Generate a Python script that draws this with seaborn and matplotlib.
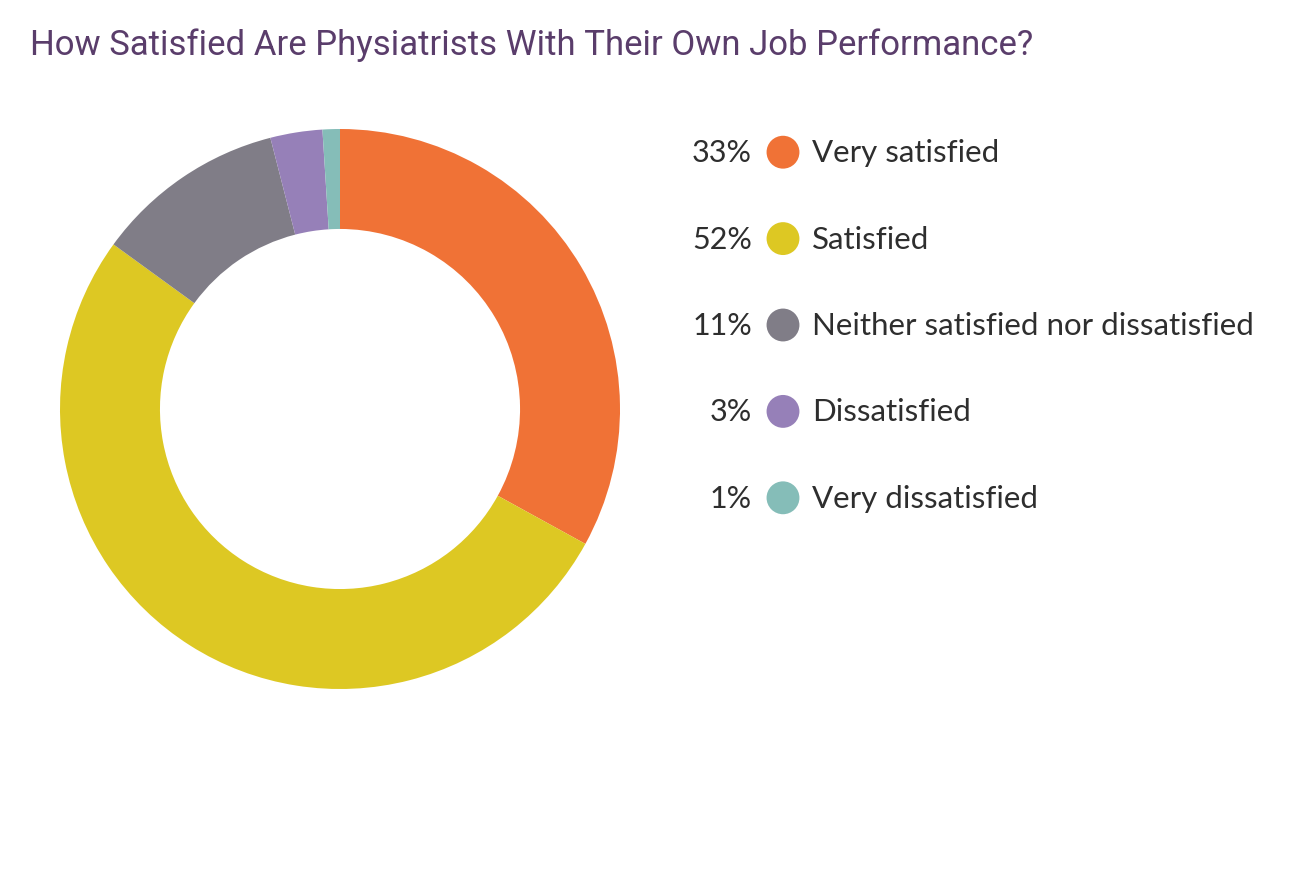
import pandas as pd
import seaborn as sns
import matplotlib.pyplot as plt

# data
categories = ["Very satisfied", "Satisfied", "Neither satisfied nor dissatisfied",
              "Dissatisfied", "Very dissatisfied"]
shares = [33, 52, 11, 3, 1]
palette = ["#F07236", "#DDC823", "#807D87", "#9680B8", "#85BDB8"]
title = "How Satisfied Are Physiatrists With Their Own Job Performance?"

df = pd.DataFrame({"cat": categories, "share": shares, "row": range(len(categories))})

sns.set_theme(style="white")
plt.rcParams["font.family"] = ["Lato", "DejaVu Sans"]

W, H = 1290, 878
fig = plt.figure(figsize=(W / 100, H / 100), dpi=100)

# donut: centre (340, 410) px, outer radius 280 px
cx, cy, r = 340, 410, 280
ax = fig.add_axes([(cx - r) / W, (H - cy - r) / H, 2 * r / W, 2 * r / H])
ax.pie(df["share"], colors=palette, startangle=90, counterclock=False,
       radius=1, wedgeprops=dict(width=0.357, linewidth=0))
ax.set_xlim(-1, 1)
ax.set_ylim(-1, 1)
ax.set_aspect("equal")
ax.axis("off")

# legend rows
top, bottom = 110, 542
lx0 = 680
lax = fig.add_axes([lx0 / W, (H - bottom) / H, (W - lx0) / W, (bottom - top) / H])
mx = (783 - lx0) / (W - lx0)
df["x"] = mx
sns.scatterplot(data=df, x="x", y="row", hue="cat", palette=palette, s=560,
                linewidth=0, legend=False, ax=lax)
lax.set_xlim(0, 1)
lax.set_ylim(len(categories) - 0.5, -0.5)
lax.axis("off")
for _, row in df.iterrows():
    lax.text((752 - lx0) / (W - lx0), row["row"], f"{row['share']}%", ha="right",
             va="center", fontsize=22, color="#2E2E2E")
    lax.text((812 - lx0) / (W - lx0), row["row"], row["cat"], ha="left",
             va="center", fontsize=22.5, color="#2E2E2E")

fig.text(30 / W, 1 - 45 / H, title, ha="left", va="center", fontsize=25,
         color="#5A3D6B", family=["Roboto", "DejaVu Sans"])

fig.savefig("out.png", dpi=100, facecolor="white")
